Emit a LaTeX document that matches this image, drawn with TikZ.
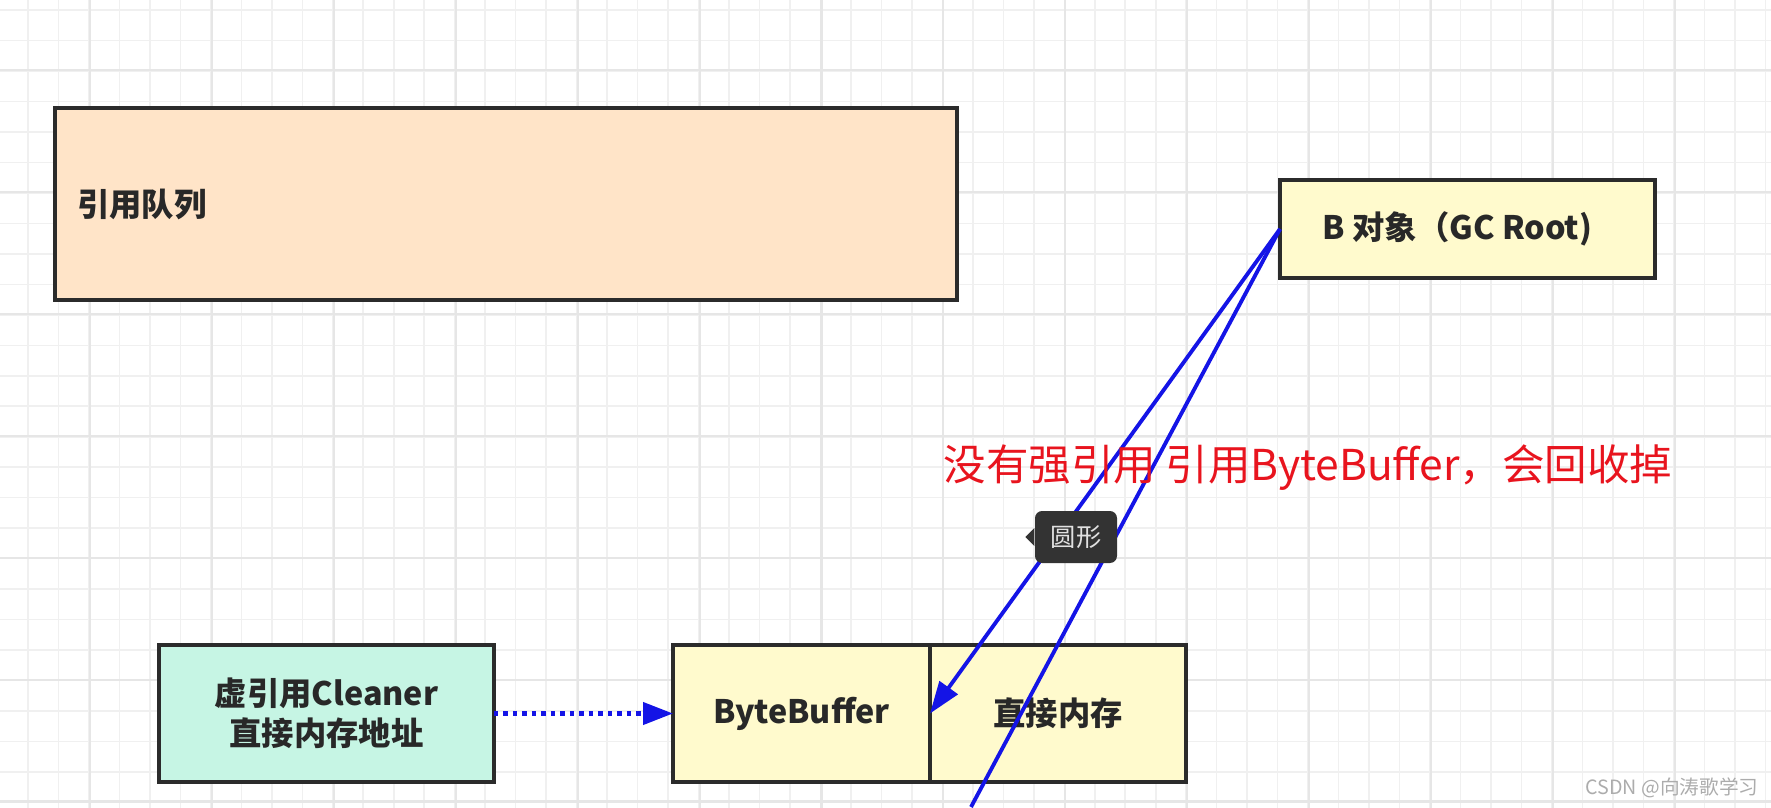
\documentclass[tikz,border=0pt]{standalone}
\usepackage{fontspec}
\setmainfont{Noto Sans CJK SC}
\usetikzlibrary{positioning, arrows.meta}
\definecolor{queuefill}{RGB}{255, 228, 200}
\definecolor{objfill}{RGB}{255, 250, 205}
\definecolor{cleanfill}{RGB}{198, 245, 228}
\definecolor{boxline}{RGB}{43, 43, 43}
\definecolor{boxtext}{RGB}{40, 40, 40}
\definecolor{refblue}{RGB}{20, 20, 230}
\definecolor{notered}{RGB}{232, 20, 30}
\definecolor{tipgray}{RGB}{51, 51, 51}
\definecolor{tiptext}{RGB}{225, 225, 225}
\definecolor{gridminor}{RGB}{240, 240, 240}
\definecolor{gridmajor}{RGB}{230, 230, 230}

\begin{document}
\begin{tikzpicture}[
                objbox/.style={draw=boxline, line width=1.1pt, outer sep=0pt, align=center,
                               font=\fontsize{9.2}{11.4}\selectfont\bfseries, text=boxtext},
                refline/.style={draw=refblue, line width=1.1pt}
            ]

            \useasboundingbox (0, 0) rectangle (17.71, 8.07);

            % background grid
            \begin{scope}
                \clip (0, 0) rectangle (17.71, 8.07);
                \draw[gridminor, line width=0.45pt, step=0.3048, xshift=-0.0248cm, yshift=0.0452cm]
                    (-0.5, -0.5) grid (18.5, 8.5);
                \draw[gridmajor, line width=0.6pt, step=1.2192, xshift=-0.3192cm, yshift=0.0548cm]
                    (-1.5, -1.5) grid (19.5, 9.5);
            \end{scope}

            \node[objbox, fill=queuefill, minimum height=1.92cm,
                  text width=8.58cm, align=left, inner xsep=0.22cm] (queue) at (5.06, 6.03)
                {引用队列};

            \node[objbox, fill=objfill, minimum width=3.75cm, minimum height=0.98cm] (broot) at (14.675, 5.78)
                {\hspace*{-0.2cm}B 对象（GC Root)};

            \node[objbox, fill=cleanfill, minimum width=3.35cm, minimum height=1.37cm] (cleaner) at (3.265, 0.935)
                {虚引用Cleaner\\直接内存地址};

            \node[objbox, fill=objfill, minimum width=2.57cm, minimum height=1.37cm] (bbuf) at (8.015, 0.935)
                {ByteBuffer};
            \node[objbox, fill=objfill, minimum width=2.56cm, minimum height=1.37cm, right=0pt of bbuf] (dmem)
                {直接内存};

            \coordinate (lineend) at (9.71, 0);

            \draw[refline, line width=1.2pt, dash pattern=on 1.2pt off 1.5pt,
                  -{Triangle[length=0.3cm, width=0.22cm]}] (cleaner) -- (bbuf);
            \draw[refline, -{Triangle[length=0.32cm, width=0.22cm]}] (broot.west) -- (bbuf.east);
            \draw[refline] (broot.west) -- (lineend);

            \node[text=notered, font=\fontsize{12.1}{14}\selectfont] (note) at (13.08, 3.39)
                {没有强引用 引用ByteBuffer，会回收掉};

            % tooltip
            \node[fill=tipgray, rounded corners=2pt, text=tiptext, minimum width=0.82cm,
                  minimum height=0.52cm, inner sep=0pt, font=\fontsize{7.2}{8}\selectfont] (tip) at (10.76, 2.70)
                {圆形};
            \fill[tipgray] ([yshift=0.09cm]tip.west) -- ++(-0.09, -0.09) -- ([yshift=-0.09cm]tip.west) -- cycle;

            \node[text=gray!65, font=\fontsize{5.6}{6.5}\selectfont] (mark) at (16.72, 0.19)
                {CSDN @向涛歌学习};

            \end{tikzpicture}
\end{document}
